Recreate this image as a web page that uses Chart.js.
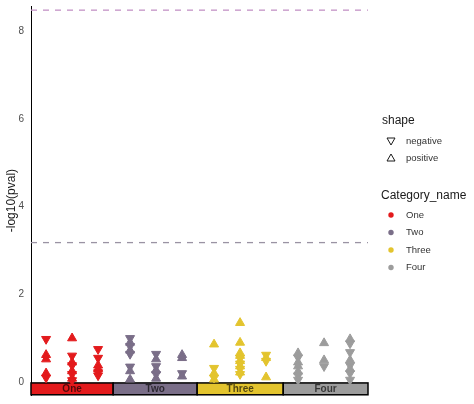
<!DOCTYPE html>
<html>
<head>
<meta charset="utf-8">
<script src="https://cdn.jsdelivr.net/npm/chart.js@4"></script>
<style>
html,body{margin:0;padding:0;background:#fff;}
#wrap{width:474px;height:404px;position:relative;}
</style>
</head>
<body>
<div id="wrap"><canvas id="manhattan"></canvas></div>
<script>
// categories + their span on the x axis
const categories = ['One', 'Two', 'Three', 'Four'];
const catColors = ['#E31A1C', '#7A6E88', '#E3C42E', '#9C9C9C'];
const catStart = [0.42, 3.58, 6.81, 10.12];
const catEnd = [3.58, 6.81, 10.12, 13.38];
const colX = [1, 2, 3, 4.23, 5.23, 6.23, 7.46, 8.46, 9.46, 10.69, 11.69, 12.69];
const yTicks = [0, 2, 4, 6, 8];
const thresholds = [8.48, 3.18];
const shapeLabels = ['negative', 'positive'];

// column index, -log10(pval), direction (n = negative, p = positive)
const oneCol = [0,0,0,0,0, 1,1,1,1,1,1,1,1, 2,2,2,2,2,2];
const oneVal = [0.98,0.62,0.52,0.2,0.1, 1.0,0.6,0.45,0.38,0.25,0.18,0.08,0.04, 0.75,0.55,0.38,0.3,0.22,0.15];
const oneDir = ['n','p','p','p','n', 'p','n','p','n','p','n','p','n', 'n','n','p','p','n','n'];

const twoCol = [3,3,3,3,3,3,3,3, 4,4,4,4,4,4, 5,5,5,5];
const twoVal = [1.0,0.9,0.82,0.72,0.64,0.35,0.25,0.06, 0.64,0.52,0.36,0.27,0.18,0.08, 0.62,0.55,0.2,0.13];
const twoDir = ['n','p','n','p','n','n','p','p', 'n','p','n','p','n','p', 'p','p','n','p'];

const threeCol = [6,6,6,6,6, 7,7,7,7,7,7,7,7,7,7,7, 8,8,8,8];
const threeVal = [0.86,0.32,0.2,0.1,0.06, 1.35,0.9,0.66,0.6,0.55,0.48,0.42,0.36,0.3,0.22,0.18, 0.62,0.55,0.48,0.11];
const threeDir = ['p','n','p','n','p', 'p','p','p','p','n','p','n','p','n','p','n', 'n','p','n','p'];

const fourCol = [9,9,9,9,9,9,9, 10,10,10, 11,11,11,11,11,11,11,11];
const fourVal = [0.66,0.56,0.45,0.36,0.24,0.15,0.05, 0.89,0.5,0.36, 0.98,0.88,0.68,0.5,0.38,0.3,0.2,0.05];
const fourDir = ['p','n','p','p','p','n','n', 'p','p','n', 'p','n','n','p','n','p','n','n'];

const groups = [
  [oneCol, oneVal, oneDir],
  [twoCol, twoVal, twoDir],
  [threeCol, threeVal, threeDir],
  [fourCol, fourVal, fourDir]
];

const FONT = '"Liberation Sans", Arial, sans-serif';

const pointSets = groups.map((g, i) => ({
  type: 'scatter',
  label: categories[i],
  data: g[0].map((c, k) => ({ x: colX[c], y: g[1][k] })),
  pointStyle: 'triangle',
  pointRotation: ctx => (g[2][ctx.dataIndex] === 'n' ? 180 : 0),
  pointRadius: 5.2,
  pointHoverRadius: 5.2,
  borderWidth: 1,
  backgroundColor: catColors[i],
  borderColor: catColors[i]
}));

const lineColors = ['#C393C6', '#9A93A3'];
const lineSets = thresholds.map((t, i) => ({
  type: 'line',
  data: [{ x: catStart[0], y: t }, { x: catEnd[3], y: t }],
  borderColor: lineColors[i],
  borderWidth: 1.3,
  borderDash: [6, 6],
  pointRadius: 0,
  fill: false
}));

// coloured category strip under the points
const catBars = {
  id: 'catBars',
  beforeDatasetsDraw(chart) {
    const { ctx, scales: { x, y } } = chart;
    const y0 = y.getPixelForValue(-0.02), y1 = y.getPixelForValue(-0.29);
    ctx.save();
    categories.forEach((name, i) => {
      const x0 = x.getPixelForValue(catStart[i]), x1 = x.getPixelForValue(catEnd[i]);
      ctx.fillStyle = catColors[i];
      ctx.fillRect(x0, y0, x1 - x0, y1 - y0);
      ctx.lineWidth = 1.5;
      ctx.strokeStyle = '#000';
      ctx.strokeRect(x0, y0, x1 - x0, y1 - y0);
      ctx.fillStyle = 'rgba(0,0,0,0.65)';
      ctx.font = 'bold 10px ' + FONT;
      ctx.textAlign = 'center';
      ctx.textBaseline = 'middle';
      ctx.fillText(name, (x0 + x1) / 2, (y0 + y1) / 2 + 0.5);
    });
    ctx.restore();
  }
};

// two-part legend at the right
const sideLegend = {
  id: 'sideLegend',
  afterDraw(chart) {
    const c = chart.ctx;
    c.save();
    c.textBaseline = 'middle';
    c.textAlign = 'left';
    c.fillStyle = '#1a1a1a';
    c.font = '12px ' + FONT;
    c.fillText('shape', 382, 121);
    c.fillText('Category_name', 381, 196);

    c.font = '9.5px ' + FONT;
    c.strokeStyle = '#1a1a1a';
    c.lineWidth = 1;
    shapeLabels.forEach((lab, i) => {
      const cy = 141 + i * 17;
      c.beginPath();
      if (i === 0) {
        c.moveTo(387, cy - 3); c.lineTo(395, cy - 3); c.lineTo(391, cy + 4);
      } else {
        c.moveTo(387, cy + 3); c.lineTo(395, cy + 3); c.lineTo(391, cy - 4);
      }
      c.closePath();
      c.stroke();
      c.fillStyle = '#333';
      c.fillText(lab, 406, cy);
    });

    categories.forEach((name, i) => {
      const cy = 215 + i * 17.5;
      c.beginPath();
      c.arc(391, cy, 2.7, 0, Math.PI * 2);
      c.fillStyle = catColors[i];
      c.fill();
      c.fillStyle = '#333';
      c.fillText(name, 406, cy);
    });
    c.restore();
  }
};

new Chart(document.getElementById('manhattan'), {
  type: 'scatter',
  data: { datasets: [...pointSets, ...lineSets] },
  options: {
    responsive: true,
    maintainAspectRatio: false,
    animation: false,
    layout: { padding: { left: 0, right: 106, top: 5, bottom: 9 } },
    plugins: { legend: { display: false }, tooltip: { enabled: false } },
    scales: {
      x: {
        type: 'linear',
        display: false,
        min: catStart[0],
        max: catEnd[3]
      },
      y: {
        min: -0.295,
        max: 8.57,
        afterBuildTicks: s => { s.ticks = yTicks.map(v => ({ value: v })); },
        afterFit: s => { s.width = 31; s.paddingTop = 0; s.paddingBottom = 0; },
        grid: { display: false, drawTicks: false },
        border: { display: true, color: '#000', width: 1 },
        ticks: { color: '#4d4d4d', font: { size: 10, family: FONT }, padding: 7 },
        title: { display: true, text: '-log10(pval)', color: '#1a1a1a', font: { size: 12, family: FONT }, padding: { top: 4, bottom: 0 } }
      }
    }
  },
  plugins: [catBars, sideLegend]
});
</script>
</body>
</html>
